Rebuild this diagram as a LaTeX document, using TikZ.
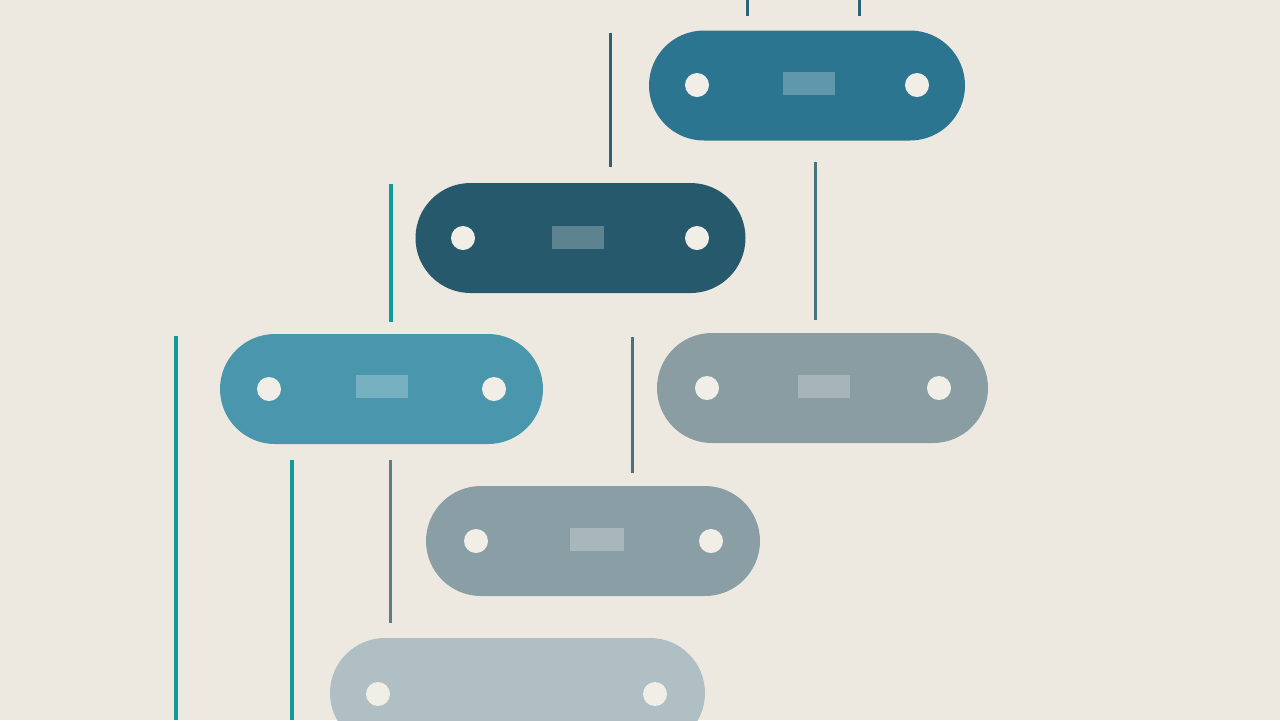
\documentclass[tikz,border=0pt]{standalone}
\begin{document}
\begin{tikzpicture}[x=0.5pt,y=-0.5pt,
  pill/.style={draw=none, rounded corners=27.5pt, minimum height=55pt, inner sep=0pt},
  hole/.style={circle, fill=holec, draw=none, minimum size=12pt, inner sep=0pt},
  tag/.style={fill=white, fill opacity=0.25, draw=none, minimum width=26pt, minimum height=11.5pt, inner sep=0pt},
  tealline/.style={draw=tealc, line width=1.6pt},
  slateline/.style={draw=slatec, line width=1.5pt},
  greyline/.style={draw=greyc, line width=1.5pt},
  paleline/.style={draw=palec, line width=1.5pt}]
\definecolor{bg}{HTML}{EDE9E1}
\definecolor{holec}{HTML}{F1EEE7}
\definecolor{tealc}{HTML}{12999A}
\definecolor{slatec}{HTML}{2C6274}
\definecolor{greyc}{HTML}{477380}
\definecolor{palec}{HTML}{5E7D87}
\definecolor{c1}{HTML}{2B7590}
\definecolor{c2}{HTML}{27596C}
\definecolor{c3}{HTML}{4A97AD}
\definecolor{c4}{HTML}{899DA3}
\definecolor{c5}{HTML}{8A9FA5}
\definecolor{c6}{HTML}{AFBFC3}
\useasboundingbox (0,0) rectangle (1280,720);
\clip (0,0) rectangle (1280,720);
\fill[bg] (0,0) rectangle (1280,720);

% pills
\node[pill, fill=c1, minimum width=158pt] (p1) at (807,85.5) {};
\node[pill, fill=c2, minimum width=165pt] (p2) at (580.5,238) {};
\node[pill, fill=c3, minimum width=161.5pt] (p3) at (381.5,389) {};
\node[pill, fill=c4, minimum width=165.5pt] (p4) at (822.5,388) {};
\node[pill, fill=c5, minimum width=167pt] (p5) at (593,541) {};
\node[pill, fill=c6, minimum width=187.5pt] (p6) at (517.5,693) {};

% tags
\node[tag] (t1) at (809,83.5) {};
\node[tag] (t2) at (577.5,237) {};
\node[tag] (t3) at (381.5,386) {};
\node[tag] (t4) at (823.5,386) {};
\node[tag, minimum width=27pt] (t5) at (596.5,539) {};

% holes
\node[hole] (h1a) at (697,85) {};
\node[hole] (h1b) at (917,85) {};
\node[hole] (h2a) at (463,238) {};
\node[hole] (h2b) at (697,238) {};
\node[hole] (h3a) at (269,389) {};
\node[hole] (h3b) at (494,389) {};
\node[hole] (h4a) at (707,388) {};
\node[hole] (h4b) at (939,388) {};
\node[hole] (h5a) at (476,541) {};
\node[hole] (h5b) at (711,541) {};
\node[hole] (h6a) at (378,694) {};
\node[hole] (h6b) at (655,694) {};

% lines
\coordinate (a1) at (747,0);   \coordinate (a2) at (747,16);
\coordinate (b1) at (859,0);   \coordinate (b2) at (859,16);
\coordinate (c1s) at (610,33); \coordinate (c2s) at (610,167);
\coordinate (d1) at (391,184); \coordinate (d2) at (391,322);
\coordinate (e1) at (815,162); \coordinate (e2) at (815,320);
\coordinate (f1) at (176,336); \coordinate (f2) at (176,720);
\coordinate (g1) at (632,337); \coordinate (g2) at (632,473);
\coordinate (k1) at (292,460); \coordinate (k2) at (292,720);
\coordinate (m1) at (390,460); \coordinate (m2) at (390,623);

\draw[slateline] (a1) -- (a2);
\draw[slateline] (b1) -- (b2);
\draw[slateline] (c1s) -- (c2s);
\draw[tealline] (d1) -- (d2);
\draw[greyline] (e1) -- (e2);
\draw[tealline] (f1) -- (f2);
\draw[greyline] (g1) -- (g2);
\draw[tealline] (k1) -- (k2);
\draw[paleline] (m1) -- (m2);
\end{tikzpicture}
\end{document}
